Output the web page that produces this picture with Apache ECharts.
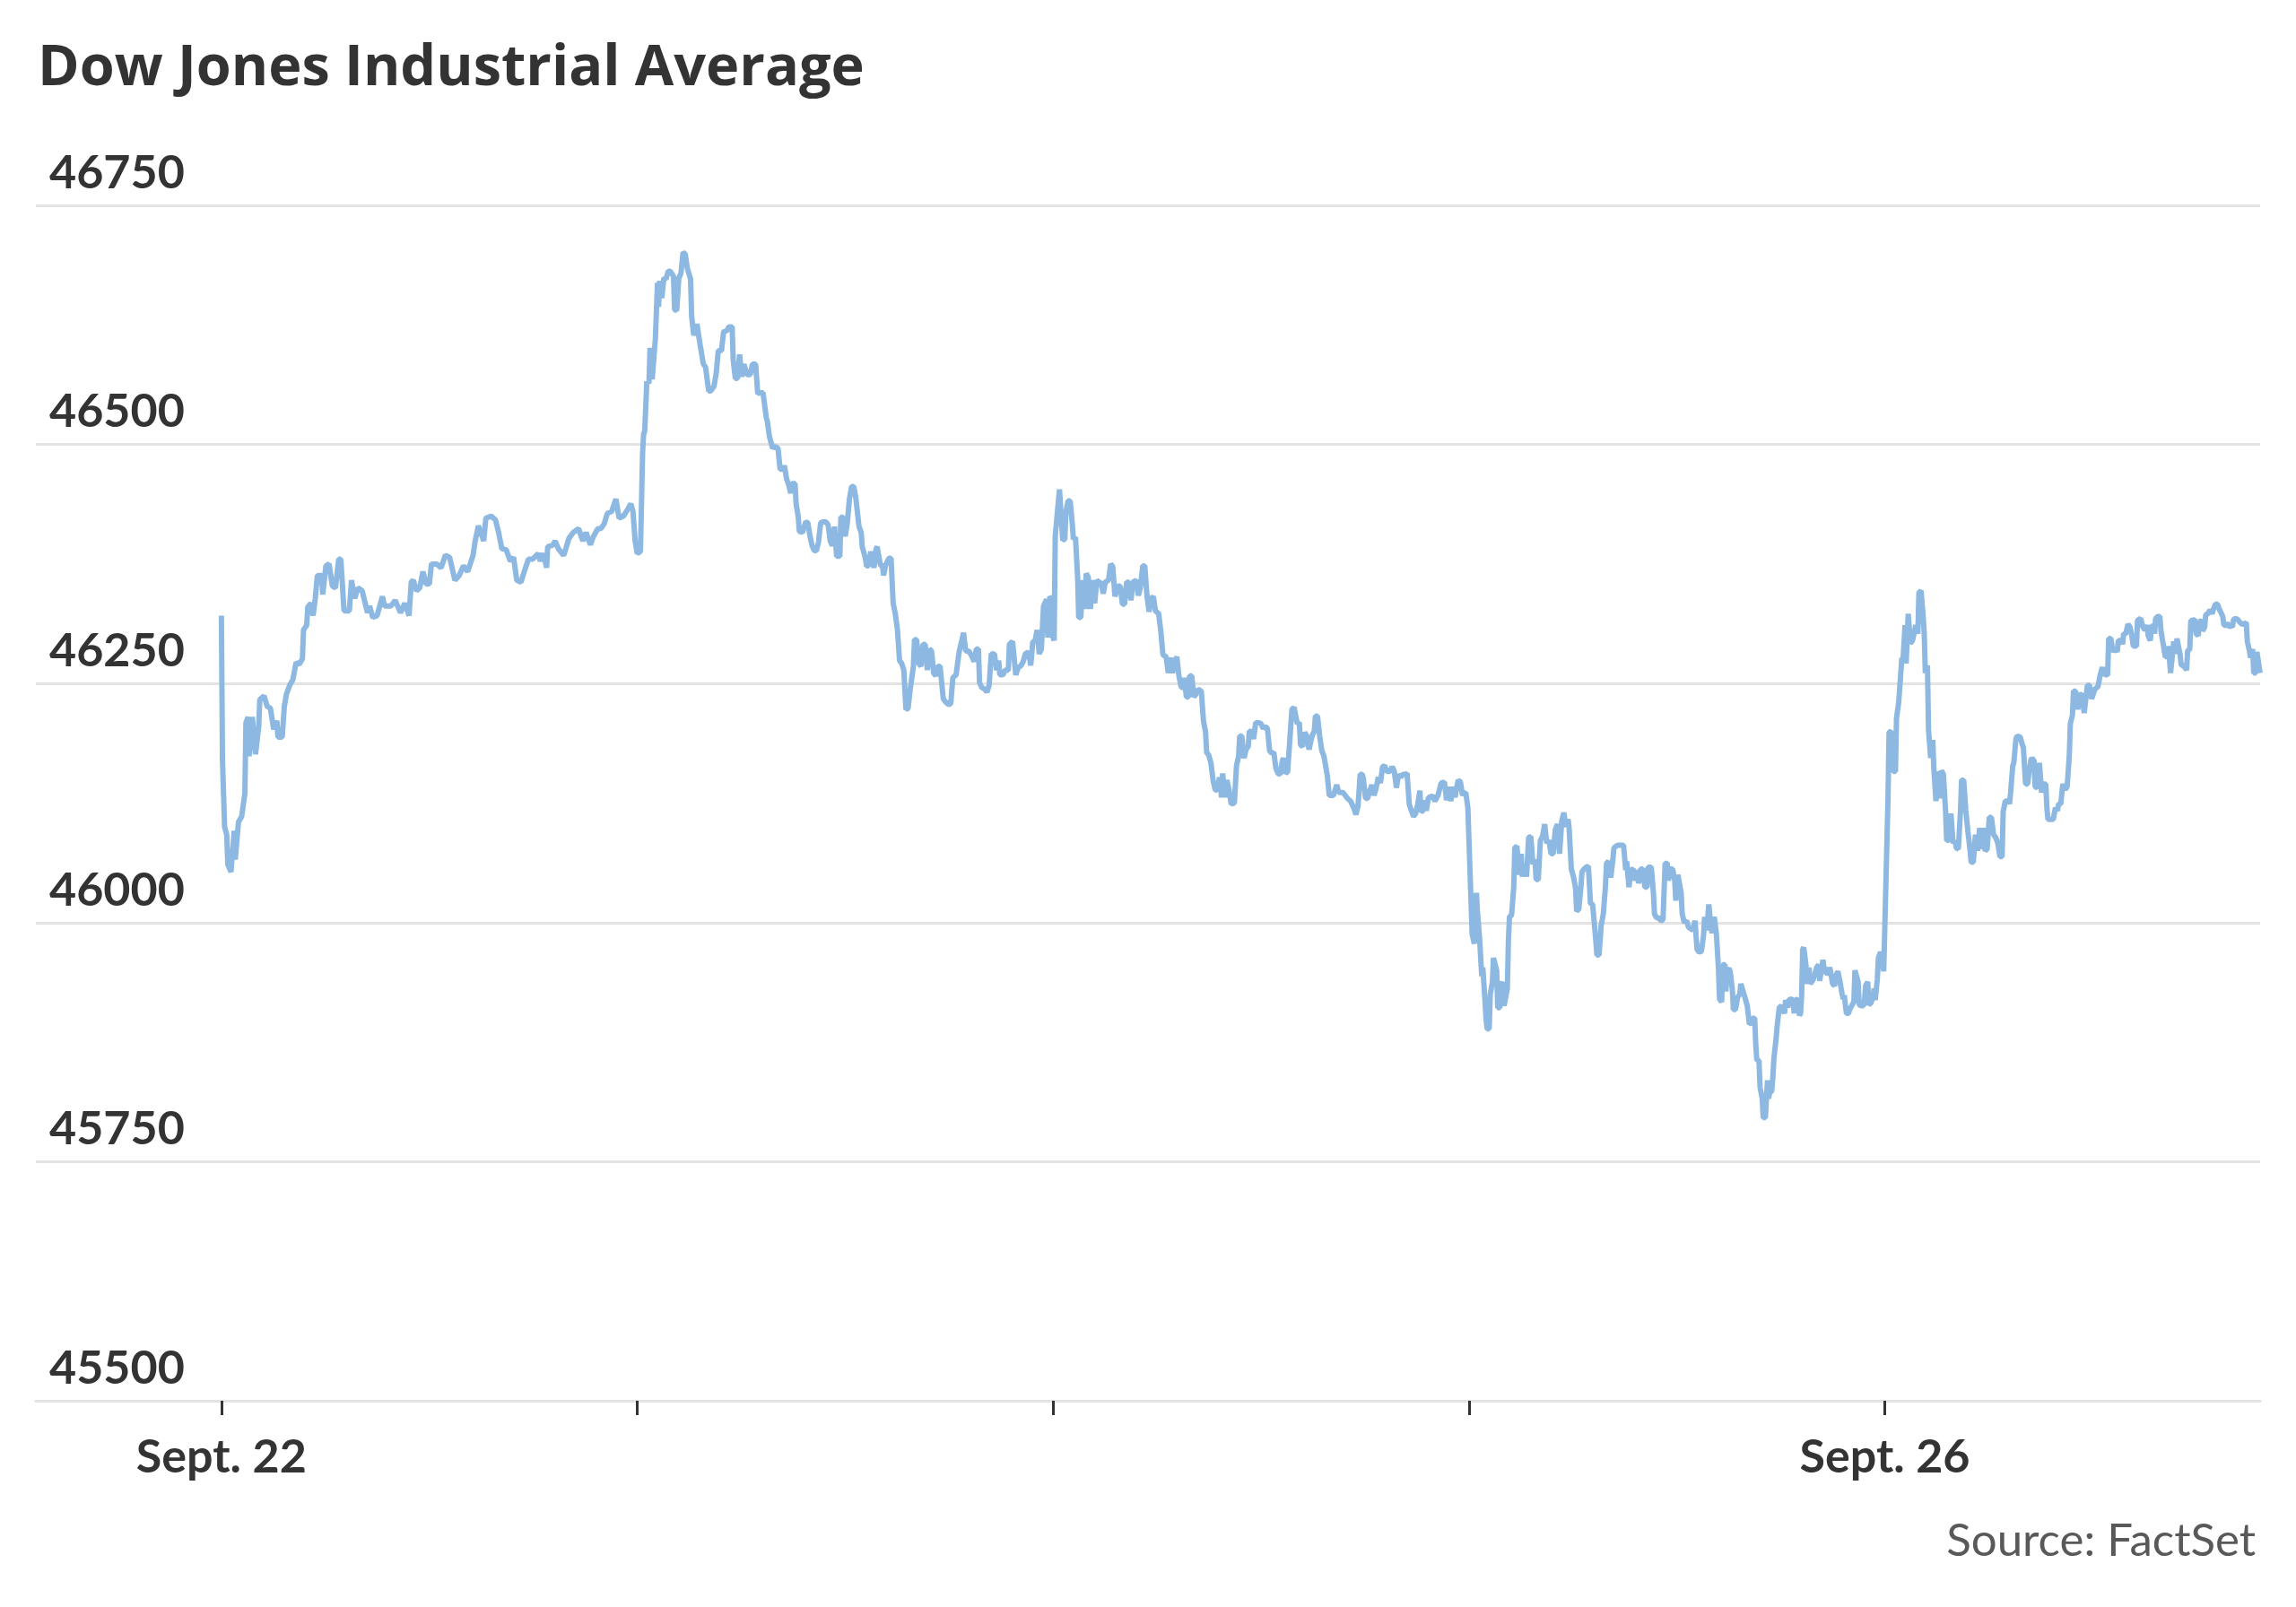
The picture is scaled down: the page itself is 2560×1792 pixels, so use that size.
<!DOCTYPE html>
<html>
<head>
<meta charset="utf-8">
<title>Dow Jones Industrial Average</title>
<script src="https://cdn.jsdelivr.net/npm/echarts@6/dist/echarts.min.js"></script>
<style>
  html, body { margin: 0; padding: 0; background: #fff; }
  #dow-chart { width: 2560px; height: 1792px; }
</style>
</head>
<body>
<div id="dow-chart"></div>
<script>
// intraday readings: [minutes since 9:30 open, index level]
const dayNames = ['Sept. 22', 'Sept. 23', 'Sept. 24', 'Sept. 25', 'Sept. 26'];
const sessionMinutes = 390;
const yTicks = [45500, 45750, 46000, 46250, 46500, 46750];
const labeledDays = [0, 4];

const sept22 = [[0,46321],[1,46170],[3,46100],[5,46092],[6,46061],[9,46053],[12,46096],[13,46066],[16,46105],[19,46111],[22,46135],[23,46209],[25,46215],[26,46174],[29,46215],[32,46176],[35,46205],[36,46233],[40,46237],[43,46226],[46,46224],[49,46202],[52,46211],[53,46194],[57,46194],[59,46226],[61,46239],[64,46248],[67,46254],[70,46272],[73,46270],[76,46276],[77,46306],[80,46311],[81,46330],[84,46334],[86,46321],[88,46339],[90,46363],[94,46363],[95,46343],[98,46373],[101,46375],[104,46352],[107,46350],[110,46380],[112,46380],[115,46326],[120,46326],[122,46358],[125,46339],[128,46350],[132,46347],[137,46324],[139,46331],[142,46319],[146,46321],[151,46341],[153,46331],[159,46331],[163,46337],[168,46324],[172,46334],[176,46321],[178,46356],[180,46358],[183,46347],[186,46350],[189,46367],[192,46354],[195,46354],[197,46375],[202,46375],[206,46371],[210,46384],[214,46382],[219,46358],[223,46363],[227,46373],[231,46367],[236,46384],[238,46399],[241,46415],[246,46399],[248,46423],[253,46425],[257,46421],[260,46408],[263,46391],[267,46390],[271,46378],[274,46382],[277,46358],[281,46356],[284,46367],[288,46380],[292,46380],[297,46386],[299,46378],[302,46386],[305,46371],[306,46393],[311,46395],[313,46399],[316,46391],[321,46384],[323,46391],[326,46402],[330,46408],[335,46412],[339,46399],[342,46408],[346,46395],[349,46404],[353,46412],[356,46412],[359,46417],[362,46428],[366,46430],[370,46443],[373,46423],[377,46425],[381,46432],[384,46438],[386,46430],[388,46399],[390,46386]];

const sept23 = [[3,46388],[5,46491],[6,46511],[7,46514],[9,46566],[11,46564],[12,46601],[14,46568],[17,46611],[19,46669],[20,46644],[21,46671],[23,46653],[25,46674],[27,46673],[29,46681],[31,46681],[34,46676],[35,46641],[37,46640],[39,46674],[41,46679],[43,46701],[45,46699],[47,46684],[50,46673],[51,46634],[53,46614],[56,46626],[58,46611],[59,46604],[62,46584],[64,46581],[67,46556],[69,46556],[72,46561],[74,46574],[76,46598],[79,46598],[81,46618],[84,46619],[86,46623],[89,46623],[90,46588],[92,46569],[94,46569],[96,46594],[98,46571],[100,46584],[103,46573],[106,46573],[108,46584],[111,46584],[113,46553],[115,46554],[118,46554],[121,46528],[122,46524],[124,46508],[127,46496],[129,46498],[132,46496],[134,46474],[137,46474],[138,46478],[140,46464],[142,46458],[144,46449],[145,46459],[148,46459],[149,46438],[151,46424],[152,46409],[155,46408],[158,46419],[160,46418],[162,46404],[164,46394],[166,46389],[168,46389],[170,46398],[172,46418],[174,46419],[177,46419],[179,46416],[181,46399],[183,46394],[185,46414],[187,46383],[190,46383],[191,46424],[193,46424],[195,46404],[197,46418],[199,46443],[201,46456],[203,46456],[205,46444],[208,46414],[210,46408],[211,46393],[214,46381],[215,46373],[217,46373],[219,46388],[222,46371],[224,46391],[225,46393],[228,46374],[230,46373],[231,46363],[233,46374],[236,46381],[238,46381],[240,46334],[242,46323],[244,46306],[246,46274],[248,46271],[250,46264],[252,46223],[254,46224],[256,46244],[259,46268],[260,46296],[262,46296],[264,46271],[266,46268],[268,46291],[270,46291],[272,46264],[274,46286],[276,46284],[278,46261],[280,46258],[282,46268],[284,46268],[287,46234],[289,46231],[292,46228],[294,46229],[296,46256],[299,46259],[302,46284],[304,46293],[306,46303],[308,46284],[311,46284],[314,46278],[316,46273],[318,46286],[320,46286],[321,46251],[323,46246],[326,46244],[328,46241],[330,46248],[332,46281],[335,46281],[337,46264],[339,46274],[340,46259],[343,46259],[345,46264],[348,46264],[349,46291],[352,46294],[355,46259],[357,46266],[360,46269],[362,46273],[364,46281],[367,46283],[369,46269],[371,46294],[373,46294],[375,46306],[377,46281],[379,46286],[381,46331],[384,46338],[385,46298],[387,46341],[389,46338],[390,46298]];

const sept24 = [[1,46295],[2,46404],[3,46404],[4,46429],[6,46453],[7,46453],[9,46400],[11,46401],[12,46429],[14,46441],[16,46441],[18,46417],[19,46401],[21,46403],[23,46361],[24,46319],[26,46319],[28,46358],[30,46328],[31,46365],[33,46361],[35,46328],[37,46358],[39,46334],[41,46358],[43,46356],[45,46355],[47,46344],[49,46356],[52,46358],[54,46375],[56,46372],[58,46341],[61,46353],[63,46351],[65,46333],[67,46333],[69,46356],[71,46356],[73,46337],[75,46356],[78,46358],[80,46342],[82,46351],[84,46373],[86,46373],[88,46342],[90,46325],[92,46339],[94,46341],[96,46326],[99,46323],[101,46305],[103,46280],[106,46278],[108,46261],[110,46277],[112,46261],[114,46272],[116,46278],[118,46258],[120,46247],[122,46245],[123,46256],[125,46236],[127,46236],[128,46258],[130,46258],[132,46236],[134,46239],[136,46244],[139,46242],[141,46211],[143,46199],[144,46178],[146,46175],[148,46167],[150,46149],[152,46139],[154,46138],[156,46152],[158,46131],[159,46156],[161,46131],[163,46149],[165,46139],[167,46124],[170,46125],[172,46164],[174,46174],[175,46195],[177,46195],[179,46172],[181,46181],[183,46184],[184,46200],[186,46200],[188,46192],[190,46209],[193,46209],[195,46208],[197,46203],[199,46205],[201,46203],[203,46180],[205,46177],[207,46178],[209,46161],[211,46156],[213,46155],[215,46169],[216,46172],[218,46156],[220,46158],[222,46191],[224,46223],[226,46225],[229,46208],[231,46209],[232,46186],[234,46184],[236,46199],[238,46195],[240,46181],[243,46196],[245,46200],[246,46216],[248,46216],[250,46195],[252,46180],[254,46174],[257,46155],[259,46133],[261,46133],[263,46133],[266,46144],[268,46136],[270,46136],[272,46136],[274,46133],[276,46130],[279,46127],[282,46120],[284,46113],[286,46122],[288,46155],[290,46155],[291,46150],[293,46130],[295,46130],[297,46138],[299,46144],[301,46133],[303,46141],[305,46152],[307,46146],[309,46163],[311,46164],[313,46158],[316,46158],[318,46163],[320,46158],[322,46141],[324,46155],[326,46152],[328,46155],[330,46155],[332,46156],[334,46124],[336,46117],[338,46111],[340,46114],[342,46124],[344,46138],[345,46116],[347,46117],[348,46128],[350,46117],[352,46131],[354,46131],[356,46133],[358,46127],[361,46133],[363,46142],[364,46146],[367,46147],[369,46128],[371,46142],[373,46127],[375,46142],[377,46131],[379,46144],[380,46149],[382,46147],[384,46133],[385,46135],[387,46136],[389,46120],[390,46120]];

const sept25 = [[3,45988],[5,45978],[7,46031],[8,46011],[10,45983],[12,45944],[13,45953],[15,45919],[16,45900],[17,45889],[19,45889],[20,45925],[22,45938],[23,45963],[24,45963],[26,45950],[27,45911],[29,45911],[30,45936],[31,45938],[33,45913],[34,45913],[36,45931],[37,45981],[38,46006],[40,46008],[42,46037],[43,46078],[45,46080],[47,46050],[49,46072],[50,46048],[52,46061],[54,46048],[56,46089],[58,46090],[60,46061],[62,46066],[63,46045],[65,46045],[67,46086],[69,46090],[71,46103],[73,46083],[75,46086],[77,46072],[79,46072],[81,46097],[83,46103],[85,46072],[87,46106],[89,46115],[91,46100],[93,46108],[94,46098],[96,46056],[98,46048],[100,46036],[101,46012],[103,46014],[105,46037],[106,46053],[108,46056],[110,46058],[112,46059],[114,46020],[116,46019],[117,46020],[119,45981],[120,45966],[122,45966],[124,45997],[126,46009],[128,46037],[129,46062],[131,46064],[133,46047],[135,46066],[136,46078],[138,46080],[140,46081],[143,46081],[145,46081],[147,46055],[148,46064],[150,46037],[152,46055],[154,46056],[156,46044],[158,46055],[159,46041],[161,46056],[163,46056],[165,46037],[167,46037],[168,46058],[171,46058],[173,46031],[174,46009],[176,46005],[178,46005],[180,46002],[182,46003],[184,46062],[186,46062],[187,46044],[189,46056],[191,46056],[193,46044],[194,46023],[196,46050],[197,46050],[199,46031],[200,46009],[202,46000],[204,46002],[206,45995],[207,45995],[210,45992],[212,46002],[213,45986],[214,45972],[216,45969],[218,45970],[220,45986],[221,46006],[223,45992],[225,46019],[226,46006],[228,45989],[230,46006],[232,45989],[234,45952],[235,45920],[237,45917],[238,45956],[240,45956],[241,45928],[242,45950],[244,45952],[245,45949],[247,45930],[248,45909],[250,45909],[252,45922],[254,45925],[255,45936],[256,45936],[258,45925],[259,45925],[261,45913],[263,45894],[265,45895],[266,45900],[268,45900],[269,45872],[270,45856],[272,45856],[273,45828],[275,45816],[276,45796],[278,45796],[280,45835],[281,45816],[282,45822],[284,45824],[285,45838],[286,45858],[288,45878],[289,45891],[291,45911],[293,45913],[294,45913],[296,45905],[297,45919],[299,45911],[300,45919],[302,45920],[304,45919],[305,45905],[306,45920],[308,45919],[310,45903],[311,45905],[312,45924],[313,45972],[314,45974],[316,45956],[317,45936],[319,45953],[320,45936],[322,45939],[323,45941],[324,45944],[326,45953],[328,45956],[329,45939],[330,45947],[332,45961],[333,45953],[335,45947],[337,45947],[338,45953],[339,45950],[341,45936],[343,45934],[344,45944],[346,45949],[348,45938],[350,45925],[351,45920],[352,45924],[354,45905],[356,45905],[357,45909],[359,45913],[361,45917],[362,45950],[363,45950],[365,45938],[366,45914],[368,45913],[370,45913],[371,45919],[372,45934],[374,45938],[375,45914],[377,45916],[379,45922],[380,45931],[381,45919],[383,45941],[384,45963],[386,45969],[387,45966],[389,45949],[390,45950]];

const sept26 = [[3,46130],[4,46199],[6,46200],[8,46158],[10,46158],[11,46214],[13,46230],[15,46261],[16,46277],[17,46273],[19,46311],[20,46271],[22,46323],[23,46323],[24,46292],[26,46295],[28,46305],[29,46311],[31,46302],[32,46345],[34,46347],[36,46320],[37,46302],[38,46261],[40,46269],[41,46202],[43,46172],[45,46191],[46,46161],[48,46127],[50,46158],[52,46130],[53,46159],[55,46155],[57,46117],[58,46086],[60,46086],[62,46114],[63,46113],[64,46083],[66,46086],[67,46078],[69,46077],[71,46117],[72,46149],[74,46149],[76,46117],[78,46095],[80,46075],[81,46063],[83,46063],[85,46092],[87,46075],[89,46099],[91,46077],[93,46099],[94,46075],[96,46077],[98,46110],[100,46110],[102,46092],[104,46089],[106,46083],[108,46069],[110,46069],[111,46116],[113,46127],[116,46127],[117,46124],[118,46136],[120,46164],[121,46167],[123,46192],[124,46195],[127,46194],[129,46186],[130,46183],[132,46145],[134,46145],[135,46155],[137,46170],[138,46172],[140,46169],[141,46142],[143,46141],[145,46167],[146,46152],[147,46136],[149,46145],[151,46145],[152,46120],[153,46108],[155,46108],[158,46108],[160,46120],[162,46117],[163,46124],[165,46124],[167,46145],[168,46145],[169,46139],[171,46142],[173,46174],[174,46208],[176,46217],[177,46242],[179,46242],[181,46223],[183,46238],[185,46239],[187,46219],[188,46219],[190,46248],[192,46248],[194,46234],[195,46234],[197,46244],[198,46245],[200,46247],[202,46259],[203,46259],[204,46267],[205,46261],[207,46259],[209,46259],[210,46297],[212,46297],[214,46283],[216,46287],[218,46283],[219,46295],[222,46295],[223,46291],[224,46302],[226,46302],[228,46312],[230,46309],[232,46298],[233,46289],[236,46289],[237,46316],[238,46317],[240,46318],[242,46309],[244,46306],[246,46311],[247,46300],[249,46295],[250,46309],[252,46311],[253,46302],[254,46318],[256,46320],[258,46320],[259,46305],[261,46292],[263,46278],[265,46278],[266,46289],[268,46261],[269,46262],[271,46294],[273,46281],[274,46297],[275,46297],[277,46280],[278,46269],[280,46269],[282,46266],[283,46264],[284,46284],[286,46286],[287,46316],[289,46316],[291,46317],[292,46302],[294,46300],[295,46312],[297,46317],[298,46305],[300,46309],[301,46322],[303,46323],[305,46327],[307,46323],[308,46327],[310,46333],[312,46333],[314,46327],[315,46327],[317,46320],[318,46311],[320,46311],[321,46314],[322,46309],[324,46311],[326,46309],[327,46317],[329,46318],[331,46317],[333,46314],[335,46312],[337,46312],[339,46314],[340,46294],[342,46284],[343,46277],[345,46286],[346,46261],[348,46261],[349,46283],[350,46284],[352,46261]];

const sessions = [sept22, sept23, sept24, sept25, sept26];

// place every session one after the other on a single minute scale
const lineData = [];
sessions.forEach((session, d) => {
    session.forEach(p => lineData.push([d * sessionMinutes + p[0], p[1]]));
});

const dayStarts = dayNames.map((_, d) => d * sessionMinutes);
const labelStarts = labeledDays.map(d => d * sessionMinutes);

const font = 'Lato, "Open Sans", sans-serif';

let chart = echarts.init(document.getElementById('dow-chart'));

const option = {
    animation: false,
    backgroundColor: '#ffffff',
    title: [
        {
            text: 'Dow Jones Industrial Average',
            left: 37,
            top: 41,
            textStyle: {
                fontFamily: '"Open Sans", Lato, sans-serif',
                fontSize: 63,
                fontWeight: 'bold',
                color: '#333333',
                lineHeight: 63
            }
        },
        {
            text: 'Source: FactSet',
            right: 40,
            top: 1688,
            textStyle: {
                fontFamily: font,
                fontSize: 51,
                fontWeight: 'normal',
                color: '#595959',
                lineHeight: 51
            }
        }
    ],
    grid: {
        left: 40,
        right: 40,
        top: 229,
        bottom: 230,
        containLabel: false,
        outerBoundsMode: 'none'
    },
    xAxis: {
        type: 'value',
        min: -174,
        max: 1912,
        axisLine: {
            show: true,
            lineStyle: { color: '#e3e3e3', width: 3 }
        },
        axisTick: {
            show: true,
            customValues: dayStarts,
            length: 16,
            lineStyle: { color: '#333333', width: 3 }
        },
        axisLabel: {
            customValues: labelStarts,
            formatter: v => dayNames[Math.round(v / sessionMinutes)],
            margin: 37,
            fontFamily: font,
            fontSize: 52,
            fontWeight: 'bold',
            color: '#333333',
            lineHeight: 52
        },
        splitLine: { show: false }
    },
    yAxis: {
        type: 'value',
        min: yTicks[0],
        max: yTicks[yTicks.length - 1],
        interval: yTicks[1] - yTicks[0],
        axisLine: { show: false },
        axisTick: { show: false },
        splitLine: {
            show: true,
            lineStyle: { color: '#e3e3e3', width: 3 }
        },
        axisLabel: {
            inside: true,
            showMinLabel: true,
            showMaxLabel: true,
            formatter: v => String(v),
            align: 'left',
            verticalAlign: 'bottom',
            margin: 15,
            padding: [0, 0, 10, 0],
            fontFamily: font,
            fontSize: 52,
            fontWeight: 'bold',
            color: '#333333',
            lineHeight: 52
        }
    },
    series: [
        {
            name: 'DJIA',
            type: 'line',
            data: lineData,
            showSymbol: false,
            symbol: 'none',
            lineStyle: { color: '#8cb8e2', width: 6 },
            itemStyle: { color: '#8cb8e2' }
        }
    ]
};

chart.setOption(option);

window.addEventListener('resize', () => chart.resize(), { passive: true });
</script>
</body>
</html>
